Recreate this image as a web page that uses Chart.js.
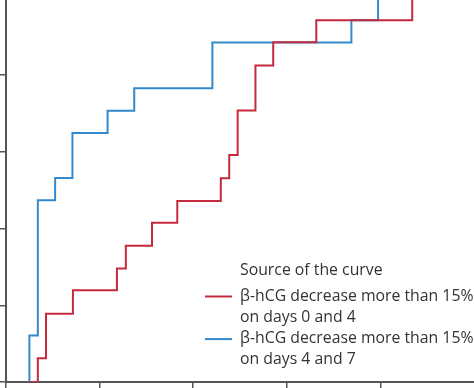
<!DOCTYPE html>
<html lang="en">
<head>
    <meta charset="UTF-8">
    <title>ROC curves</title>
    <script src="https://cdn.jsdelivr.net/npm/chart.js"></script>
    <style>
        html, body { margin: 0; padding: 0; background: #fff; }
        #wrap { width: 474px; height: 388px; }
    </style>
</head>
<body>
    <div id="wrap"><canvas id="roc" width="474" height="388"></canvas></div>

    <script>
        // 1 - specificity / sensitivity
        const fprDays04 = [0.05, 0.068, 0.0855, 0.143, 0.237, 0.256, 0.312, 0.366, 0.459, 0.477, 0.495, 0.533, 0.571, 0.663, 0.868, 1];
        const tprDays04 = [0, 0.062, 0.178, 0.239, 0.296, 0.355, 0.415, 0.472, 0.531, 0.592, 0.708, 0.825, 0.886, 0.943, 1, 1];

        const fprDays47 = [0.05, 0.05, 0.068, 0.105, 0.142, 0.217, 0.274, 0.441, 0.738, 0.795, 1];
        const tprDays47 = [0, 0.121, 0.474, 0.532, 0.649, 0.707, 0.766, 0.885, 0.943, 1, 1];

        const xTicks = [0, 0.2, 0.4, 0.6, 0.8];
        const yTicks = [0, 0.2, 0.4, 0.6, 0.8];

        const legendTitle = "Source of the curve";
        const legendDays04 = ["β-hCG decrease more than 15%", "on days 0 and 4"];
        const legendDays47 = ["β-hCG decrease more than 15%", "on days 4 and 7"];

        const red = "#c42a3c";
        const blue = "#3289cc";
        const axisColor = "#555555";

        function toPoints(xs, ys) {
            return xs.map((x, i) => ({ x: x, y: ys[i] }));
        }

        // legend drawn inside the plot, bottom right
        const curveLegend = {
            id: "curveLegend",
            afterDraw(chart) {
                const ctx = chart.ctx;
                const items = [
                    { color: red, lines: legendDays04 },
                    { color: blue, lines: legendDays47 }
                ];
                ctx.save();
                ctx.font = "15.8px 'Open Sans'";
                ctx.fillStyle = "#333333";
                ctx.textBaseline = "alphabetic";
                ctx.fillText(legendTitle, 240, 275);
                let y = 300.5;
                items.forEach(item => {
                    ctx.strokeStyle = item.color;
                    ctx.lineWidth = 2;
                    ctx.beginPath();
                    ctx.moveTo(205, y - 4);
                    ctx.lineTo(232, y - 4);
                    ctx.stroke();
                    item.lines.forEach(line => {
                        ctx.fillText(line, 240, y);
                        y += 21.3;
                    });
                });
                ctx.restore();
            }
        };

        new Chart(document.getElementById("roc"), {
            type: "line",
            data: {
                datasets: [
                    {
                        label: legendDays04.join(" "),
                        data: toPoints(fprDays04, tprDays04),
                        borderColor: red,
                        borderWidth: 2,
                        pointRadius: 0,
                        stepped: "before",
                        fill: false
                    },
                    {
                        label: legendDays47.join(" "),
                        data: toPoints(fprDays47, tprDays47),
                        borderColor: blue,
                        borderWidth: 2,
                        pointRadius: 0,
                        stepped: "before",
                        fill: false
                    }
                ]
            },
            options: {
                responsive: false,
                animation: false,
                layout: { padding: 0 },
                plugins: {
                    legend: { display: false },
                    tooltip: { enabled: false }
                },
                scales: {
                    x: {
                        type: "linear",
                        min: 0,
                        max: 1,
                        ticks: { display: false },
                        afterBuildTicks: s => { s.ticks = xTicks.map(v => ({ value: v })); },
                        afterFit: s => { s.height = 6; },
                        grid: { drawOnChartArea: false, drawTicks: true, tickLength: 6, color: axisColor, lineWidth: 1.5 },
                        border: { display: true, color: axisColor, width: 2 }
                    },
                    y: {
                        type: "linear",
                        min: 0,
                        max: 0.996,
                        ticks: { display: false },
                        afterBuildTicks: s => { s.ticks = yTicks.map(v => ({ value: v })); },
                        afterFit: s => { s.width = 6; },
                        grid: { drawOnChartArea: false, drawTicks: true, tickLength: 6, color: axisColor, lineWidth: 1.5 },
                        border: { display: true, color: axisColor, width: 2 }
                    }
                }
            },
            plugins: [curveLegend]
        });
    </script>
</body>
</html>
